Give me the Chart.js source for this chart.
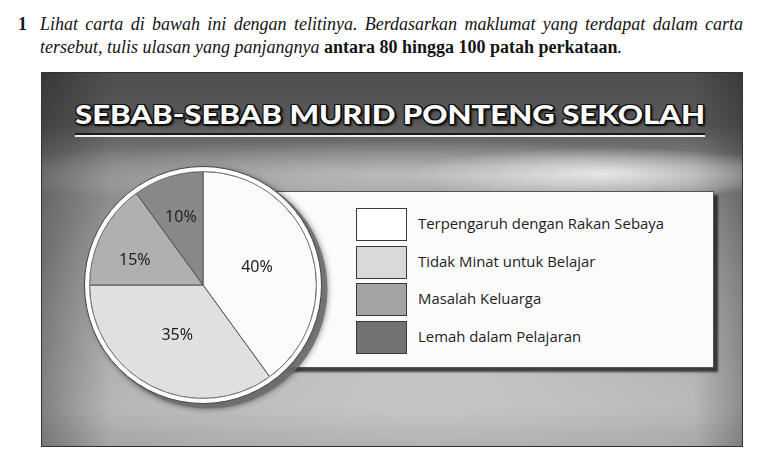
<!DOCTYPE html>
<html><head><meta charset="utf-8">
<script src="https://cdn.jsdelivr.net/npm/chart.js@4.4.1/dist/chart.umd.min.js"></script>
<style>
html,body{margin:0;padding:0;background:#fff;width:768px;height:466px;overflow:hidden;position:relative;}
#q{position:absolute;left:0;top:0;width:768px;font-family:"Liberation Serif","Times New Roman",serif;font-size:18px;color:#151515;line-height:22px;}
#q .num{position:absolute;left:18px;top:13px;font-weight:bold;font-style:normal;}
#q .l1{position:absolute;left:40px;top:13px;width:703px;font-style:italic;text-align:justify;text-align-last:justify;}
#q .l2{position:absolute;left:40px;top:36px;width:720px;font-style:italic;white-space:nowrap;}
#q .l2 b{font-style:normal;}
#frame{position:absolute;left:41px;top:72px;width:700px;height:373px;border:1.5px solid #333;
 background:
  radial-gradient(ellipse 28% 7% at 80% 27%, rgba(255,255,255,0.75), rgba(255,255,255,0) 100%),
  radial-gradient(ellipse 60% 9% at 50% 27%, rgba(255,255,255,0.4), rgba(255,255,255,0) 100%),
  radial-gradient(ellipse 75% 70% at 55% 72%, rgba(255,255,255,0.35), rgba(255,255,255,0) 80%),
  linear-gradient(90deg, rgba(0,0,0,0.28) 0%, rgba(0,0,0,0) 10%, rgba(0,0,0,0) 93%, rgba(0,0,0,0.25) 100%),
  linear-gradient(180deg,#4e4e4e 0%,#5a5a5a 14%,#777 22%,#8c8c8c 30%,#979797 45%,#a5a5a5 70%,#b2b2b2 90%,#a2a2a2 100%);
}
#title{position:absolute;left:75px;top:98px;font-family:Lato,"Open Sans",sans-serif;font-weight:900;font-size:26px;color:#fdfdfd;white-space:nowrap;transform-origin:0 0;
 text-shadow:-1px -1px 0 #111,1px -1px 0 #111,-1px 1px 0 #111,1px 1px 0 #111,0 1.5px 0 #111,1.5px 0 0 #111,2px 2px 2px rgba(0,0,0,0.8);}
#ul1{position:absolute;left:75px;top:133px;width:630px;height:2px;background:#1a1a1a;}
#ul2{position:absolute;left:75px;top:135px;width:630px;height:1.5px;background:#eee;}
#legbox{position:absolute;left:260px;top:191px;width:452px;height:175px;background:#fbfbfb;border:1px solid #555;box-shadow:4px 4px 2px rgba(20,20,20,0.75);}
.li{position:absolute;left:356px;font-family:"Open Sans","Noto Sans",sans-serif;font-size:14.9px;color:#1e1e1e;}
.sw{position:absolute;left:0;top:0;width:49px;height:31px;border:1px solid #3a3a3a;}
.lt{position:absolute;left:62px;top:5px;white-space:nowrap;}
#c{position:absolute;left:0;top:0;}
</style></head>
<body>
<div id="q">
 <span class="num">1</span>
 <div class="l1">Lihat carta di bawah ini dengan telitinya. Berdasarkan maklumat yang terdapat dalam carta</div>
 <div class="l2">tersebut, tulis ulasan yang panjangnya <b>antara 80 hingga 100 patah perkataan</b>.</div>
</div>
<div id="frame"></div>
<div id="title">SEBAB-SEBAB MURID PONTENG SEKOLAH</div>
<div id="ul1"></div><div id="ul2"></div>
<div id="legbox"></div>
<div id="legend"></div>
<canvas id="c" width="768" height="466"></canvas>
<script>
// ---- data ----
const categories = ["Terpengaruh dengan Rakan Sebaya","Tidak Minat untuk Belajar","Masalah Keluarga","Lemah dalam Pelajaran"];
const percentages = [40, 35, 15, 10];
const sliceColors = ["#fbfbfb","#e0e0e0","#b0b0b0","#888888"];
const swatchColors = ["#ffffff","#d9d9d9","#a3a3a3","#727272"];

// ---- styling constants ----
const labelRadiusFrac = [0.5, 0.5, 0.64, 0.63];
const labelAngleShift = [0, 0, -0.12, 0];
const legendTop = 208, legendPitch = 37.7;

// title width fit
(function(){
 const t=document.getElementById('title');
 const w=t.getBoundingClientRect().width;
 t.style.transform='scaleX('+(630/w)+')';
})();

// HTML legend built from the data arrays
const leg=document.getElementById('legend');
categories.forEach((c,i)=>{
 const d=document.createElement('div');d.className='li';
 d.style.top=(legendTop+i*legendPitch)+'px';
 d.innerHTML='<div class="sw" style="background:'+swatchColors[i]+'"></div><span class="lt"></span>';
 d.querySelector('.lt').textContent=c;
 leg.appendChild(d);
});

const ringPlugin={
 id:'ring',
 beforeDatasetsDraw(chart){
  const a=chart.getDatasetMeta(0).data[0]; if(!a)return;
  const {x,y,outerRadius}=a.getProps(['x','y','outerRadius'],true);
  const ctx=chart.ctx; ctx.save();
  ctx.shadowColor='rgba(0,0,0,0.55)';ctx.shadowBlur=6;
  ctx.fillStyle='rgba(110,110,110,0.9)';
  ctx.beginPath();ctx.arc(x+5,y+4,outerRadius+6,0,Math.PI*2);ctx.fill();
  ctx.restore();
 },
 afterDatasetsDraw(chart){
  const meta=chart.getDatasetMeta(0);
  const ctx=chart.ctx;
  const a0=meta.data[0];
  const {x,y,outerRadius}=a0.getProps(['x','y','outerRadius'],true);
  ctx.save();
  ctx.strokeStyle='#fdfdfd';ctx.lineWidth=5;
  ctx.beginPath();ctx.arc(x,y,outerRadius+2.5,0,Math.PI*2);ctx.stroke();
  ctx.strokeStyle='#444';ctx.lineWidth=1;
  ctx.beginPath();ctx.arc(x,y,outerRadius+5,0,Math.PI*2);ctx.stroke();
  ctx.strokeStyle='#777';ctx.lineWidth=0.8;
  ctx.beginPath();ctx.arc(x,y,outerRadius,0,Math.PI*2);ctx.stroke();
  // percentage labels
  ctx.fillStyle='#222';ctx.font='16px "Noto Sans","Open Sans",sans-serif';
  ctx.textAlign='center';ctx.textBaseline='middle';
  meta.data.forEach((arc,i)=>{
   const p=arc.getProps(['startAngle','endAngle','outerRadius','x','y'],true);
   const m=(p.startAngle+p.endAngle)/2+labelAngleShift[i], r=p.outerRadius*labelRadiusFrac[i];
   ctx.fillText(chart.data.datasets[0].data[i]+'%',p.x+Math.cos(m)*r,p.y+Math.sin(m)*r);
  });
  ctx.restore();
 }
};

new Chart(document.getElementById('c'),{
 type:'pie',
 data:{labels:categories,datasets:[{data:percentages,backgroundColor:sliceColors,borderColor:'#555',borderWidth:1,hoverOffset:0,offset:0}]},
 options:{
  responsive:false,animation:false,
  layout:{padding:{left:89,right:451,top:171,bottom:67}},
  plugins:{legend:{display:false},tooltip:{enabled:false},title:{display:false}}
 },
 plugins:[ringPlugin]
});
</script>
</body></html>
